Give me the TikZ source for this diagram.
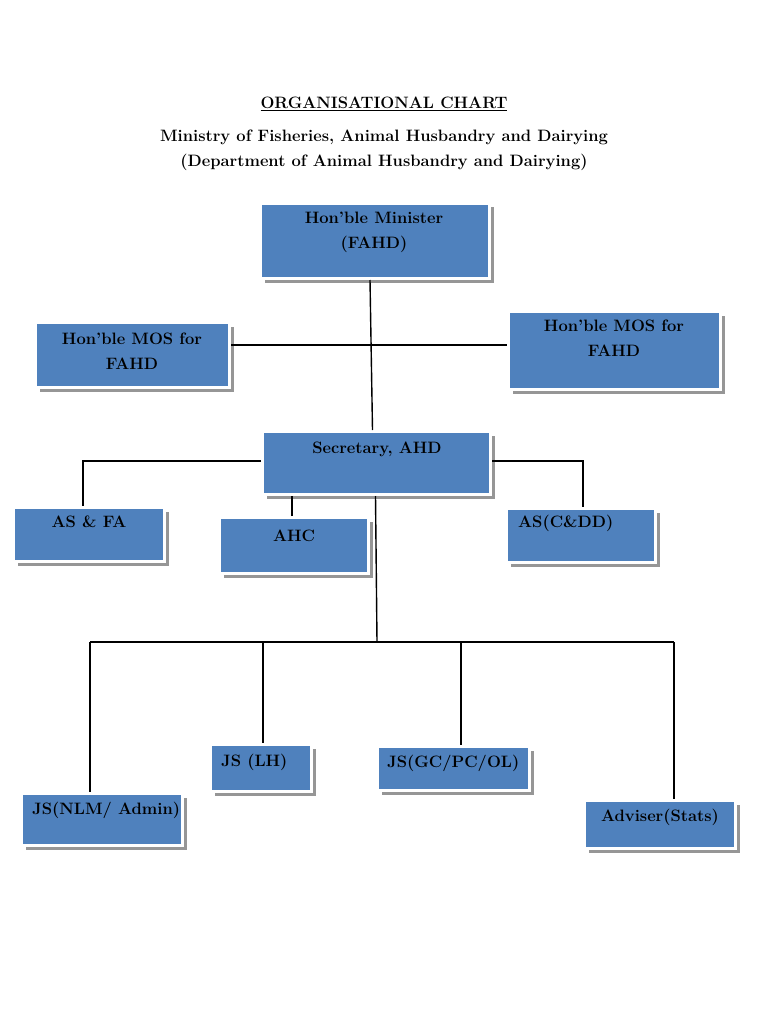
\documentclass[tikz,border=0pt]{standalone}
\usepackage{xcolor}
\usepackage{tikz}
\usetikzlibrary{
  positioning,
  calc,
  shadows
}
\definecolor{BoxBlue}{RGB}{79,129,189}
\definecolor{ShadowGray}{RGB}{150,150,150}

\begin{document}
\begin{tikzpicture}[x=1pt,y=-1pt,
  orgbox/.style={fill=BoxBlue, draw=white, line width=3pt,
    drop shadow={shadow xshift=4pt, shadow yshift=-4pt,
      fill=ShadowGray, opacity=1}},
  boxtxt/.style={font=\fontsize{16.5}{25}\selectfont\bfseries,
    align=center, inner sep=0pt, text=black},
  link/.style={black, line width=1.4pt}]
  \useasboundingbox (0,0) rectangle (768,1024);

  % ---------- 标题 ----------
  \node[boxtxt] (title) at (384,104) {\underline{ORGANISATIONAL CHART}};
  \node[boxtxt] (sub) at (384,150)
    {Ministry of Fisheries, Animal Husbandry and Dairying\\
     (Department of Animal Husbandry and Dairying)};

  % ---------- 方框 ----------
  \node[orgbox, minimum width=229, minimum height=75] (min)   at (375,241) {};
  \node[orgbox, minimum width=194, minimum height=65] (mosL)  at (132.5,355) {};
  \node[orgbox, minimum width=212, minimum height=78] (mosR)  at (614.5,350.5) {};
  \node[orgbox, minimum width=228, minimum height=63] (sec)   at (376.5,463) {};
  \node[orgbox, minimum width=151, minimum height=54] (asfa)  at (89,534.5) {};
  \node[orgbox, minimum width=149, minimum height=56] (ahc)   at (294,545.5) {};
  \node[orgbox, minimum width=149, minimum height=54] (ascdd) at (581,535.5) {};
  \node[orgbox, minimum width=101, minimum height=47] (jslh)  at (261,768) {};
  \node[orgbox, minimum width=152, minimum height=44] (jsgc)  at (453.5,768.5) {};
  \node[orgbox, minimum width=161, minimum height=52] (jsnlm) at (102,819.5) {};
  \node[orgbox, minimum width=151, minimum height=48] (adv)   at (660,824.5) {};

  % 文字
  \node[boxtxt] (minT)  at (374,232.5) {Hon'ble Minister\\(FAHD)};
  \node[boxtxt] (mosLT) at (132,351.5) {Hon'ble MOS for\\FAHD};
  \node[boxtxt] (mosRT) at (614,338.5) {Hon'ble MOS for\\FAHD};
  \node[boxtxt] (secT)  at (377,449) {Secretary, AHD};
  \node[boxtxt] (asfaT) at (89,522) {AS \& FA};
  \node[boxtxt] (ahcT)  at (294,536) {AHC};
  \node[boxtxt, anchor=west] (ascddT) at (518,523) {AS(C\&DD)};
  \node[boxtxt, anchor=west] (jslhT)  at (221,762) {JS (LH)};
  \node[boxtxt, anchor=west] (jsgcT)  at (387,763) {JS(GC/PC/OL)};
  \node[boxtxt, anchor=west] (jsnlmT) at (32,810) {JS(NLM/ Admin)};
  \node[boxtxt] (advT)  at (660,817) {Adviser(Stats)};

  % ---------- 连线 ----------
  \coordinate (mosbar) at (371,345);
  \coordinate (jsbar) at (377,642);

  \draw[link] ([xshift=-5pt]min.south) -- ([xshift=-4pt]sec.north);
  \draw[link] (mosL.east |- mosbar) -- (mosR.west |- mosbar);
  \draw[link] ([yshift=2pt]sec.west) -| ([xshift=-6pt]asfa.north);
  \draw[link] ([yshift=2pt]sec.east) -| ([xshift=2pt]ascdd.north);
  \draw[link] ([xshift=-2pt]ahc.north) -- ([xshift=-2pt]ahc.north |- sec.south);
  \draw[link] ([xshift=-1pt]sec.south) -- (jsbar);
  \draw[link] ([xshift=-12pt]jsnlm.north |- jsbar) -- ([xshift=14pt]adv.north |- jsbar);
  \foreach \n/\dx in {jsnlm/-12, jslh/2, jsgc/7.5, adv/14}
    \draw[link] ([xshift=\dx pt]\n.north |- jsbar) -- ([xshift=\dx pt]\n.north);
\end{tikzpicture}
\end{document}
